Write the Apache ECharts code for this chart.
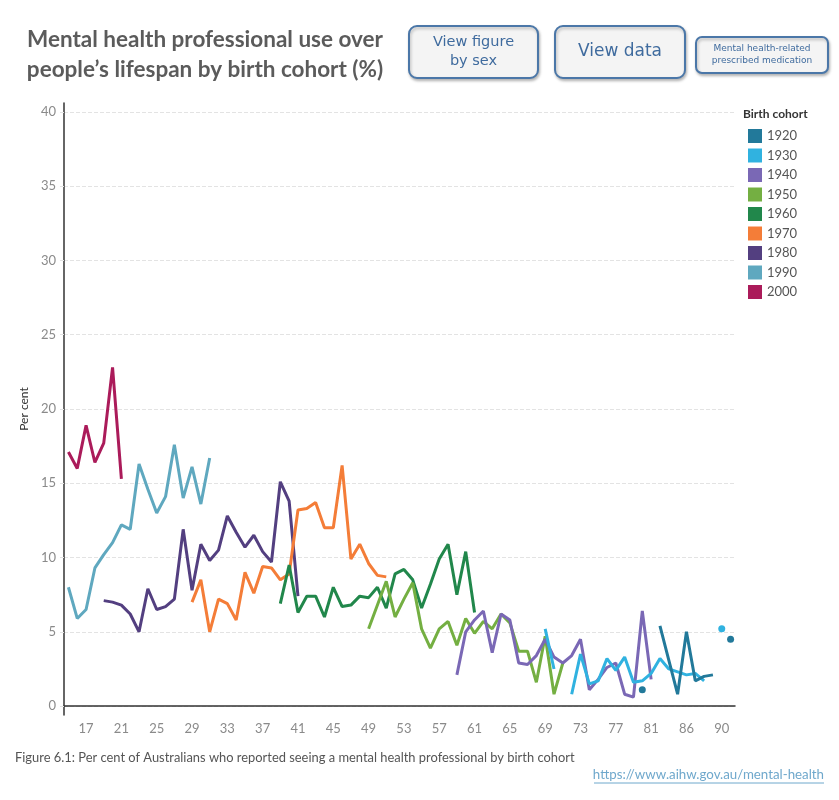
<!DOCTYPE html>
<html>
<head>
<meta charset="utf-8">
<script src="https://cdn.jsdelivr.net/npm/echarts@6/dist/echarts.min.js"></script>
<style>
html,body{margin:0;padding:0;background:#fff}
#chart{width:839px;height:800px}
</style>
</head>
<body>
<div id="chart"></div>
<script>
// x axis ages (85 is not in the data)
var ages = ['15','16','17','18','19','20','21','22','23','24','25','26','27','28','29','30',
  '31','32','33','34','35','36','37','38','39','40','41','42','43','44','45','46','47','48',
  '49','50','51','52','53','54','55','56','57','58','59','60','61','62','63','64','65','66',
  '67','68','69','70','71','72','73','74','75','76','77','78','79','80','81','82','83','84',
  '86','87','88','89','90','91'];

var cohorts = ['1920','1930','1940','1950','1960','1970','1980','1990','2000'];
var colours = ['#22799a','#30b2e0','#7a68b5','#74af42','#21874b','#f47d38','#533f80','#5fa8bf','#ab1b5a'];
// age of first value in each cohort list
var startAge = ['80','69','59','49','39','29','19','15','15'];

var v1920 = [1.1, null, 5.4, 3.1, 0.8, 5.0, 1.7, 2.0, 2.1, null, 4.5];
var v1930 = [5.2, 2.5, null, 0.8, 3.5, 1.5, 1.7, 3.2, 2.4, 3.3, 1.6, 1.7, 2.2, 3.2, 2.5, 2.3, 2.1, 2.2, 1.7, null, 5.2];
var v1940 = [2.1, 5.0, 5.8, 6.4, 3.6, 6.2, 5.8, 2.9, 2.8, 3.4, 4.5, 3.3, 2.9, 3.4, 4.5, 1.1, 1.8, 2.6, 2.9, 0.8, 0.6, 6.4, 1.8];
var v1950 = [5.2, 6.8, 8.4, 6.0, 7.2, 8.3, 5.2, 3.9, 5.2, 5.7, 4.1, 5.9, 4.9, 5.7, 5.2, 6.2, 5.6, 3.7, 3.7, 1.6, 4.7, 0.8, 2.9];
var v1960 = [6.9, 9.5, 6.3, 7.4, 7.4, 6.0, 8.0, 6.7, 6.8, 7.4, 7.3, 8.0, 6.6, 8.9, 9.2, 8.5, 6.6, 8.2, 9.9, 10.9, 7.5, 10.4, 6.3];
var v1970 = [7.0, 8.5, 5.0, 7.2, 6.9, 5.8, 9.0, 7.6, 9.4, 9.3, 8.5, 8.9, 13.2, 13.3, 13.7, 12.0, 12.0, 16.2, 9.9, 10.9, 9.6, 8.8, 8.7];
var v1980 = [7.1, 7.0, 6.8, 6.2, 5.0, 7.9, 6.5, 6.7, 7.2, 11.9, 7.8, 10.9, 9.8, 10.5, 12.8, 11.7, 10.7, 11.5, 10.4, 9.7, 15.1, 13.8, 7.4];
var v1990 = [8.0, 5.9, 6.5, 9.3, 10.2, 11.0, 12.2, 11.9, 16.3, 14.6, 13.0, 14.1, 17.6, 14.0, 16.1, 13.6, 16.7];
var v2000 = [17.1, 16.0, 18.9, 16.4, 17.7, 22.8, 15.3];

var yTicks = [0, 5, 10, 15, 20, 25, 30, 35, 40];

var values = [v1920, v1930, v1940, v1950, v1960, v1970, v1980, v1990, v2000];

// pad each cohort out to the full age axis
function padded(i) {
  var arr = ages.map(function () { return null; });
  var s = ages.indexOf(startAge[i]);
  values[i].forEach(function (v, k) { arr[s + k] = v; });
  return arr;
}

var series = [];
// 2000 first so older cohorts draw on top
for (var i = cohorts.length - 1; i >= 0; i--) {
  (function (i) {
    var d = padded(i);
    series.push({
      name: cohorts[i],
      type: 'line',
      data: d,
      connectNulls: false,
      showSymbol: true,
      showAllSymbol: true,
      symbol: 'circle',
      // only lone points get a dot
      symbolSize: function (val, p) {
        var k = p.dataIndex;
        var prev = k > 0 ? d[k - 1] : null;
        var next = k < d.length - 1 ? d[k + 1] : null;
        return (prev == null && next == null) ? 7 : 0;
      },
      itemStyle: { color: colours[i] },
      lineStyle: { width: 3, color: colours[i] },
      emphasis: { disabled: true },
      animation: false
    });
  })(i);
}

var chart = echarts.init(document.getElementById('chart'));

function button(x, y, w, h, r, lines, size, lh) {
  var kids = [{
    type: 'rect',
    shape: { x: x, y: y, width: w, height: h, r: r },
    style: {
      fill: '#f4f4f4', stroke: '#4b77a8', lineWidth: 2,
      shadowBlur: 3, shadowOffsetX: 1, shadowOffsetY: 2, shadowColor: 'rgba(0,0,0,0.25)'
    }
  }];
  var y0 = y + h / 2 - (lines.length - 1) * lh / 2;
  lines.forEach(function (t, k) {
    kids.push({
      type: 'text', x: x + w / 2, y: y0 + k * lh,
      style: { text: t, fill: '#3f6b9e', font: size + 'px "DejaVu Sans"', align: 'center', verticalAlign: 'middle' }
    });
  });
  return { type: 'group', children: kids };
}

var option = {
  backgroundColor: '#fff',
  animation: false,
  grid: { left: 64, right: 104, top: 103, bottom: 85 },
  legend: {
    data: cohorts,
    orient: 'vertical',
    left: 743, top: 124,
    icon: 'rect',
    itemWidth: 14, itemHeight: 14, itemGap: 5.5,
    textStyle: { color: '#555', fontSize: 13, fontFamily: 'Lato' },
    selectedMode: false
  },
  xAxis: {
    type: 'category',
    data: ages,
    boundaryGap: true,
    axisLine: { lineStyle: { color: '#333', width: 1.5 } },
    axisTick: { show: false },
    axisLabel: {
      interval: function (idx) { return idx % 4 === 2; },
      color: '#8a8a8a', fontSize: 13, fontFamily: 'Lato', margin: 7
    },
    splitLine: { show: false }
  },
  yAxis: {
    type: 'value',
    min: -0.6, max: 40.6,
    name: 'Per cent',
    nameLocation: 'middle',
    nameGap: 29,
    nameRotate: 90,
    nameTextStyle: { color: '#333', fontSize: 12, fontFamily: 'Lato' },
    axisLine: { show: true, lineStyle: { color: '#333', width: 1.5 } },
    axisTick: { show: true, length: 5, customValues: yTicks, lineStyle: { color: '#e3e3e3', type: 'dashed' } },
    axisLabel: { customValues: yTicks, color: '#8a8a8a', fontSize: 13, fontFamily: 'Lato', margin: 8 },
    splitLine: { show: true, lineStyle: { color: '#e3e3e3', type: 'dashed', width: 1 } }
  },
  graphic: [
    {
      type: 'text', x: 205, y: 55,
      style: {
        text: 'Mental health professional use over\npeople\u2019s lifespan by birth cohort (%)',
        fill: '#5b5b5b', font: 'bold 22.5px Lato', align: 'center', verticalAlign: 'middle', lineHeight: 30
      }
    },
    button(409, 26, 129, 52, 8, ['View figure', 'by sex'], 14.5, 19),
    button(555, 26, 130, 52, 8, ['View data'], 17, 20),
    button(696, 37, 132, 36, 6, ['Mental health-related', 'prescribed medication'], 9, 12),
    {
      type: 'text', x: 743, y: 114,
      style: { text: 'Birth cohort', fill: '#333', font: 'bold 12px Lato', verticalAlign: 'middle' }
    },
    {
      type: 'text', x: 15, y: 758,
      style: {
        text: 'Figure 6.1: Per cent of Australians who reported seeing a mental health professional by birth cohort',
        fill: '#555', font: '12.9px Lato', verticalAlign: 'middle'
      }
    },
    {
      type: 'text', x: 824, y: 775,
      style: { text: 'https://www.aihw.gov.au/mental-health', fill: '#6fa8cc', font: '13.3px Lato', align: 'right', verticalAlign: 'middle' }
    },
    {
      type: 'line', shape: { x1: 594, y1: 783, x2: 824, y2: 783 },
      style: { stroke: '#6fa8cc', lineWidth: 1 }
    }
  ],
  series: series
};

chart.setOption(option);
</script>
</body>
</html>
